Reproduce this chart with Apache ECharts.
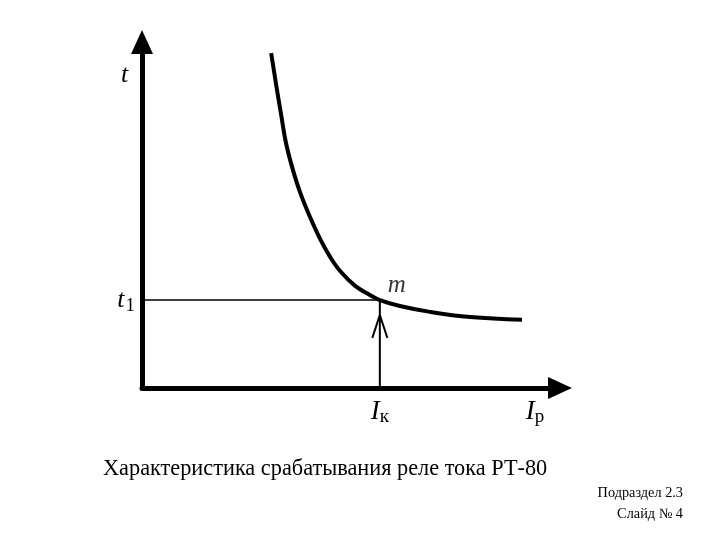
<!DOCTYPE html>
<html>
<head>
<meta charset="utf-8">
<script src="https://cdn.jsdelivr.net/npm/echarts@6/dist/echarts.min.js"></script>
<style>
  html, body { margin: 0; padding: 0; background: #fff; }
  #chart { width: 720px; height: 540px; }
</style>
</head>
<body>
<div id="chart"></div>
<script>
// кривая срабатывания реле (ток, время)
const curveX = [3.09, 3.21, 3.33, 3.44, 3.59, 3.78, 4.02, 4.26, 4.50, 4.74, 5.10, 5.45, 5.69, 6.17, 6.89, 7.85, 9.09];
const curveY = [9.68, 8.76, 7.89, 7.11, 6.39, 5.66, 4.94, 4.31, 3.79, 3.38, 2.95, 2.69, 2.54, 2.37, 2.20, 2.05, 1.97];
const Ik = 5.69;   // ток срабатывания
const t1 = 2.54;   // время срабатывания
const IpPos = 9.4;  // место подписи оси тока
const tPos = 9.05;  // место подписи оси времени

const serif = 'Liberation Serif';
const curve = curveX.map((x, i) => [x, curveY[i]]);

let chart = echarts.init(document.getElementById('chart'));
let option = {
  backgroundColor: '#fff',
  animation: false,
  grid: { left: 142, top: 42, right: 160, bottom: 152 },
  xAxis: {
    type: 'value', min: 0, max: 10,
    splitLine: { show: false },
    axisTick: { show: false },
    axisLine: {
      onZero: false,
      symbol: ['none', 'triangle'], symbolSize: [22, 24],
      lineStyle: { color: '#000', width: 5 }
    },
    axisLabel: {
      customValues: [Ik, IpPos],
      margin: 9,
      formatter: v => v === Ik ? '{i|I}{s|к}' : '{i|I}{s|р}',
      rich: {
        i: { fontFamily: serif, fontStyle: 'italic', fontSize: 27, color: '#000' },
        s: { fontFamily: serif, fontSize: 19, color: '#000', padding: [11, 0, 0, 0] }
      }
    }
  },
  yAxis: {
    type: 'value', min: 0, max: 10,
    splitLine: { show: false },
    axisTick: { show: false },
    axisLine: {
      onZero: false,
      symbol: ['none', 'triangle'], symbolSize: [22, 24],
      lineStyle: { color: '#000', width: 5 }
    },
    axisLabel: {
      customValues: [t1, tPos],
      margin: 7,
      formatter: v => v === t1 ? '{i|t}{s|1}' : '{i|t}  ',
      rich: {
        i: { fontFamily: serif, fontStyle: 'italic', fontSize: 26, color: '#000' },
        s: { fontFamily: serif, fontSize: 19, color: '#000', padding: [11, 0, 0, 1] }
      }
    }
  },
  series: [
    {
      type: 'line', data: curve, smooth: 0.4, symbol: 'none',
      lineStyle: { color: '#000', width: 4 }
    },
    {
      type: 'line', data: [[0, t1], [Ik, t1]], symbol: 'none',
      lineStyle: { color: '#000', width: 1.5 }
    },
    {
      type: 'line', data: [[Ik, 0], [Ik, t1]], symbol: 'none',
      lineStyle: { color: '#000', width: 2 }
    },
    {
      type: 'line', data: [[Ik - 0.18, 1.45], [Ik, 2.11], [Ik + 0.18, 1.45]], symbol: 'none',
      lineStyle: { color: '#000', width: 2 }
    },
    {
      type: 'scatter', data: [[Ik, t1]], symbolSize: 0,
      label: {
        show: true, formatter: 'm', position: [8, -27],
        fontFamily: serif, fontStyle: 'italic', fontSize: 25, color: '#000'
      }
    }
  ],
  graphic: [
    {
      type: 'text', left: 103, top: 458,
      style: { text: 'Характеристика срабатывания реле тока РТ-80', font: '22.3px "Liberation Serif"', fill: '#000' }
    },
    {
      type: 'text', right: 37, top: 486,
      style: { text: 'Подраздел 2.3', font: '14.3px "Liberation Serif"', fill: '#000', align: 'right' }
    },
    {
      type: 'text', right: 37, top: 507,
      style: { text: 'Слайд № 4', font: '14.3px "Liberation Serif"', fill: '#000', align: 'right' }
    }
  ]
};
chart.setOption(option);
</script>
</body>
</html>
